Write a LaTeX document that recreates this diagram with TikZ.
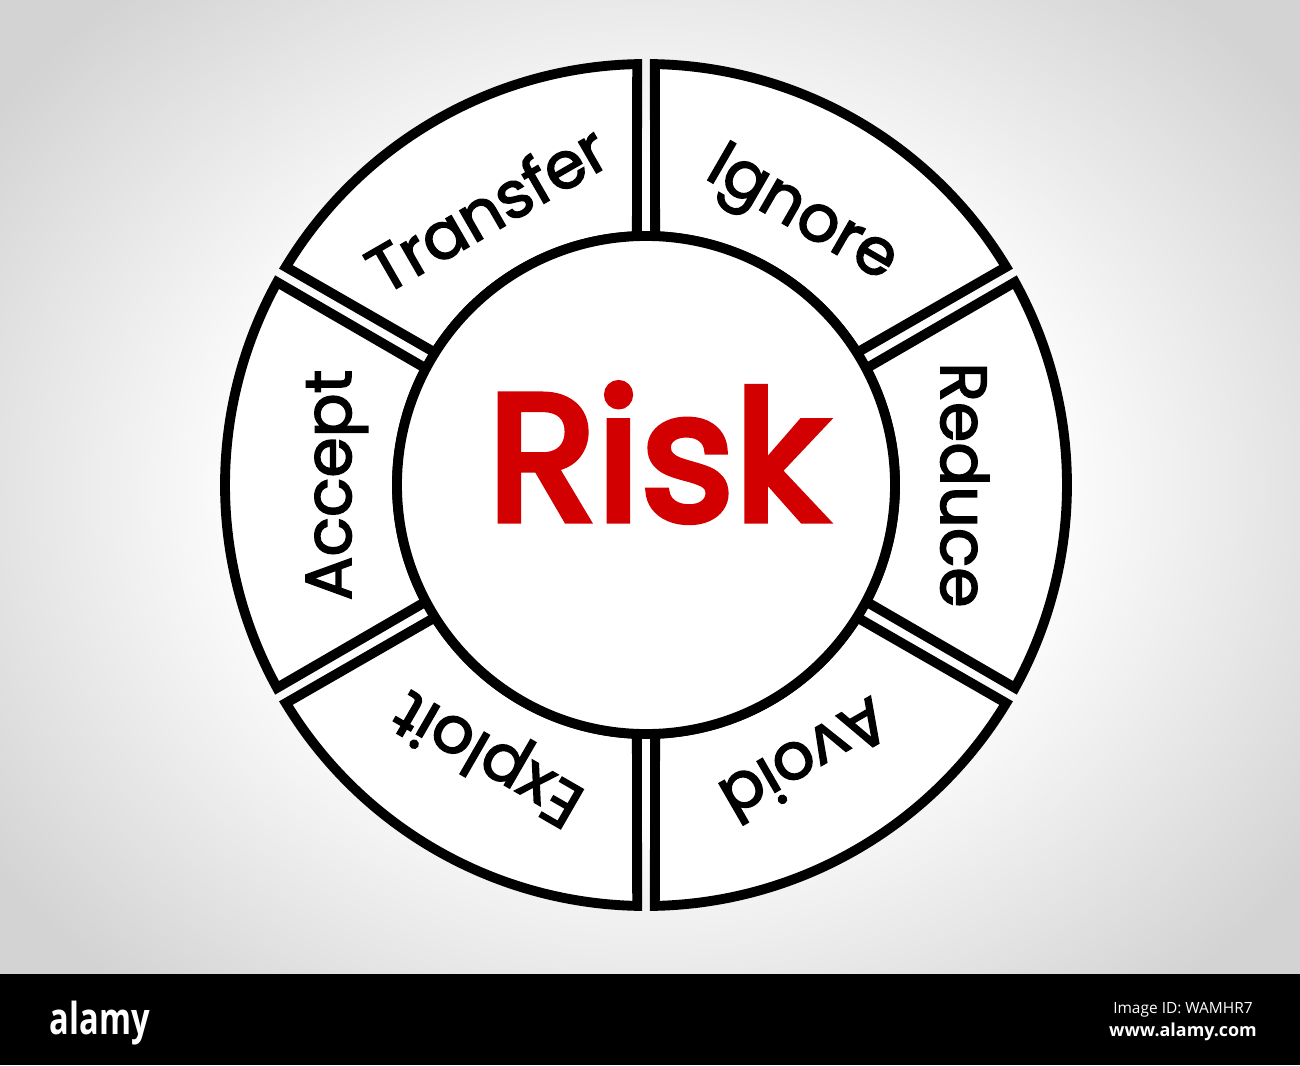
\documentclass[tikz,border=0pt]{standalone}
\usepackage{fontspec}
\setmainfont{Poppins}
\newfontfamily\ringfont[FakeBold=2.4]{Poppins}
\newfontfamily\riskfont[FakeBold=4]{Poppins}
\newfontfamily\markfont{Open Sans}
\definecolor{riskred}{RGB}{210,0,0}
\definecolor{bggray}{RGB}{211,211,211}
\pgfdeclareradialshading{bgshade}{\pgfpoint{0bp}{0bp}}{color(0bp)=(white); color(12bp)=(white); color(25bp)=(bggray); color(50bp)=(bggray)}

\begin{document}
\begin{tikzpicture}[seg/.style = {draw, fill=white, line width=2.8pt},
  lbl/.style = {anchor=base, font=\ringfont\fontsize{18.5}{18.5}\selectfont}]
\useasboundingbox (-6.46,4.85) rectangle (6.54,-5.80);
% background and bottom bar
\begin{scope}
\clip (-6.46,4.85) rectangle (6.54,-4.89);
\fill[bggray] (-6.46,4.85) rectangle (6.54,-4.89);
\shade[shading=bgshade] (0.04,-0.05) ellipse[x radius=8, y radius=6.6];
\end{scope}
\fill[black] (-6.46,-4.89) rectangle (6.54,-5.80);
% ring segments
\draw[seg] (88.8:4.21) arc[start angle=88.8, end angle=31.2, radius=4.21] -- (32.1:2.49) arc[start angle=32.1, end angle=87.9, radius=2.49] -- cycle;
\draw[seg] (148.8:4.21) arc[start angle=148.8, end angle=91.2, radius=4.21] -- (92.1:2.49) arc[start angle=92.1, end angle=147.9, radius=2.49] -- cycle;
\draw[seg] (208.8:4.21) arc[start angle=208.8, end angle=151.2, radius=4.21] -- (152.1:2.49) arc[start angle=152.1, end angle=207.9, radius=2.49] -- cycle;
\draw[seg] (268.8:4.21) arc[start angle=268.8, end angle=211.2, radius=4.21] -- (212.1:2.49) arc[start angle=212.1, end angle=267.9, radius=2.49] -- cycle;
\draw[seg] (328.8:4.21) arc[start angle=328.8, end angle=271.2, radius=4.21] -- (272.1:2.49) arc[start angle=272.1, end angle=327.9, radius=2.49] -- cycle;
\draw[seg] (28.8:4.21) arc[start angle=28.8, end angle=-28.8, radius=4.21] -- (-27.9:2.49) arc[start angle=-27.9, end angle=27.9, radius=2.49] -- cycle;
\node[draw, circle, fill=white, line width=2.8pt, minimum size=4.98cm, inner sep=0pt] (core) at (0,0) {};
% labels
\node[lbl, rotate=-30] (ignore) at (60:2.95) {Ignore};
\node[lbl, rotate=30] (transfer) at (120:2.95) {Transfer};
\node[lbl, rotate=90] (accept) at (180:2.95) {Accept};
\node[lbl, rotate=150] (exploit) at (240:2.95) {Exploit};
\node[lbl, rotate=-150] (avoid) at (300:2.95) {Avoid};
\node[lbl, rotate=-90] (reduce) at (0:2.95) {Reduce};
\node[anchor=base, text=riskred, font=\riskfont\fontsize{51}{51}\selectfont] (risk) at (0.11,-0.35) {Risk};
% watermark bar
\node[text=white, inner sep=0pt] (logo) at (-5.46,-5.38) {\resizebox*{1cm}{0.44cm}{\markfont\bfseries alamy}};
\node[anchor=base, text=white, font=\markfont\fontsize{4.4}{5}\selectfont] (imgid) at (5.37,-5.28) {Image ID: WAMHR7};
\node[anchor=base, text=white, font=\markfont\bfseries\fontsize{5.1}{6}\selectfont] (site) at (5.37,-5.51) {www.alamy.com};
\end{tikzpicture}
\end{document}
